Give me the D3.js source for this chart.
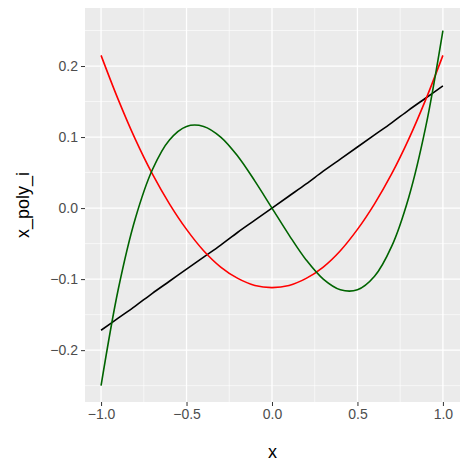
<!DOCTYPE html>
<html><head><meta charset="utf-8">
<script src="https://cdn.jsdelivr.net/npm/d3@7"></script>
<style>body{margin:0;background:#fff}</style>
</head><body><div id="chart"></div>
<script>
const xs = [-1,-0.9,-0.8,-0.7,-0.6,-0.5,-0.4,-0.3,-0.2,-0.1,0,0.1,0.2,0.3,0.4,0.5,0.6,0.7,0.8,0.9,1];
const poly1 = [-0.172,-0.155,-0.138,-0.120,-0.103,-0.086,-0.069,-0.052,-0.034,-0.017,0,0.017,0.034,0.052,0.069,0.086,0.103,0.120,0.138,0.155,0.172];
const poly2 = [0.215,0.153,0.097,0.048,0.006,-0.030,-0.060,-0.083,-0.099,-0.109,-0.112,-0.109,-0.099,-0.083,-0.060,-0.030,0.006,0.048,0.097,0.153,0.215];
const poly3 = [-0.250,-0.115,-0.015,0.054,0.096,0.115,0.115,0.100,0.073,0.038,0,-0.038,-0.073,-0.100,-0.115,-0.115,-0.096,-0.054,0.015,0.115,0.250];
const xTicks = [-1,-0.5,0,0.5,1];
const yTicks = [-0.2,-0.1,0,0.1,0.2];
const series = [{v: poly1, c: "#000000"}, {v: poly2, c: "#ff0000"}, {v: poly3, c: "#006400"}];

const W = 474, H = 474;
const p = {l: 85, r: 460, t: 8, b: 402};
const x = d3.scaleLinear().domain([-1.094, 1.1]).range([p.l, p.r]);
const y = d3.scaleLinear().domain([-0.273, 0.2817]).range([p.b, p.t]);

const svg = d3.select("#chart").append("svg").attr("width", W).attr("height", H)
  .style("font-family", "Liberation Sans, Arial, sans-serif");
svg.append("rect").attr("x", p.l).attr("y", p.t).attr("width", p.r - p.l).attr("height", p.b - p.t).attr("fill", "#ebebeb");

const xMinor = [-0.75,-0.25,0.25,0.75], yMinor = [-0.25,-0.15,-0.05,0.05,0.15,0.25];
svg.append("g").selectAll("line").data(xMinor).join("line")
  .attr("x1", d => x(d)).attr("x2", d => x(d)).attr("y1", p.t).attr("y2", p.b)
  .attr("stroke", "#fff").attr("stroke-width", 0.6);
svg.append("g").selectAll("line").data(yMinor).join("line")
  .attr("y1", d => y(d)).attr("y2", d => y(d)).attr("x1", p.l).attr("x2", p.r)
  .attr("stroke", "#fff").attr("stroke-width", 0.6);
svg.append("g").selectAll("line").data(xTicks).join("line")
  .attr("x1", d => x(d)).attr("x2", d => x(d)).attr("y1", p.t).attr("y2", p.b)
  .attr("stroke", "#fff").attr("stroke-width", 1.3);
svg.append("g").selectAll("line").data(yTicks).join("line")
  .attr("y1", d => y(d)).attr("y2", d => y(d)).attr("x1", p.l).attr("x2", p.r)
  .attr("stroke", "#fff").attr("stroke-width", 1.3);

const line = d3.line().curve(d3.curveCatmullRom).x((d, i) => x(xs[i])).y(d => y(d));
series.forEach(s => {
  svg.append("path").datum(s.v).attr("d", line).attr("fill", "none")
    .attr("stroke", s.c).attr("stroke-width", 1.6);
});

const xAxis = svg.append("g").attr("transform", `translate(0,${p.b})`)
  .call(d3.axisBottom(x).tickValues(xTicks).tickFormat(d3.format(".1f")).tickSize(4).tickPadding(3));
const yAxis = svg.append("g").attr("transform", `translate(${p.l},0)`)
  .call(d3.axisLeft(y).tickValues(yTicks).tickFormat(d3.format(".1f")).tickSize(4).tickPadding(3));
[xAxis, yAxis].forEach(g => {
  g.select(".domain").remove();
  g.selectAll(".tick line").attr("stroke", "#333");
  g.selectAll(".tick text").attr("fill", "#4d4d4d").style("font-size", "14px");
});

svg.append("text").attr("x", (p.l + p.r) / 2).attr("y", 458).attr("text-anchor", "middle")
  .style("font-size", "18px").text("x");
svg.append("text").attr("transform", `translate(29,${(p.t + p.b) / 2}) rotate(-90)`)
  .attr("text-anchor", "middle").style("font-size", "18px").text("x_poly_i");
</script></body></html>
